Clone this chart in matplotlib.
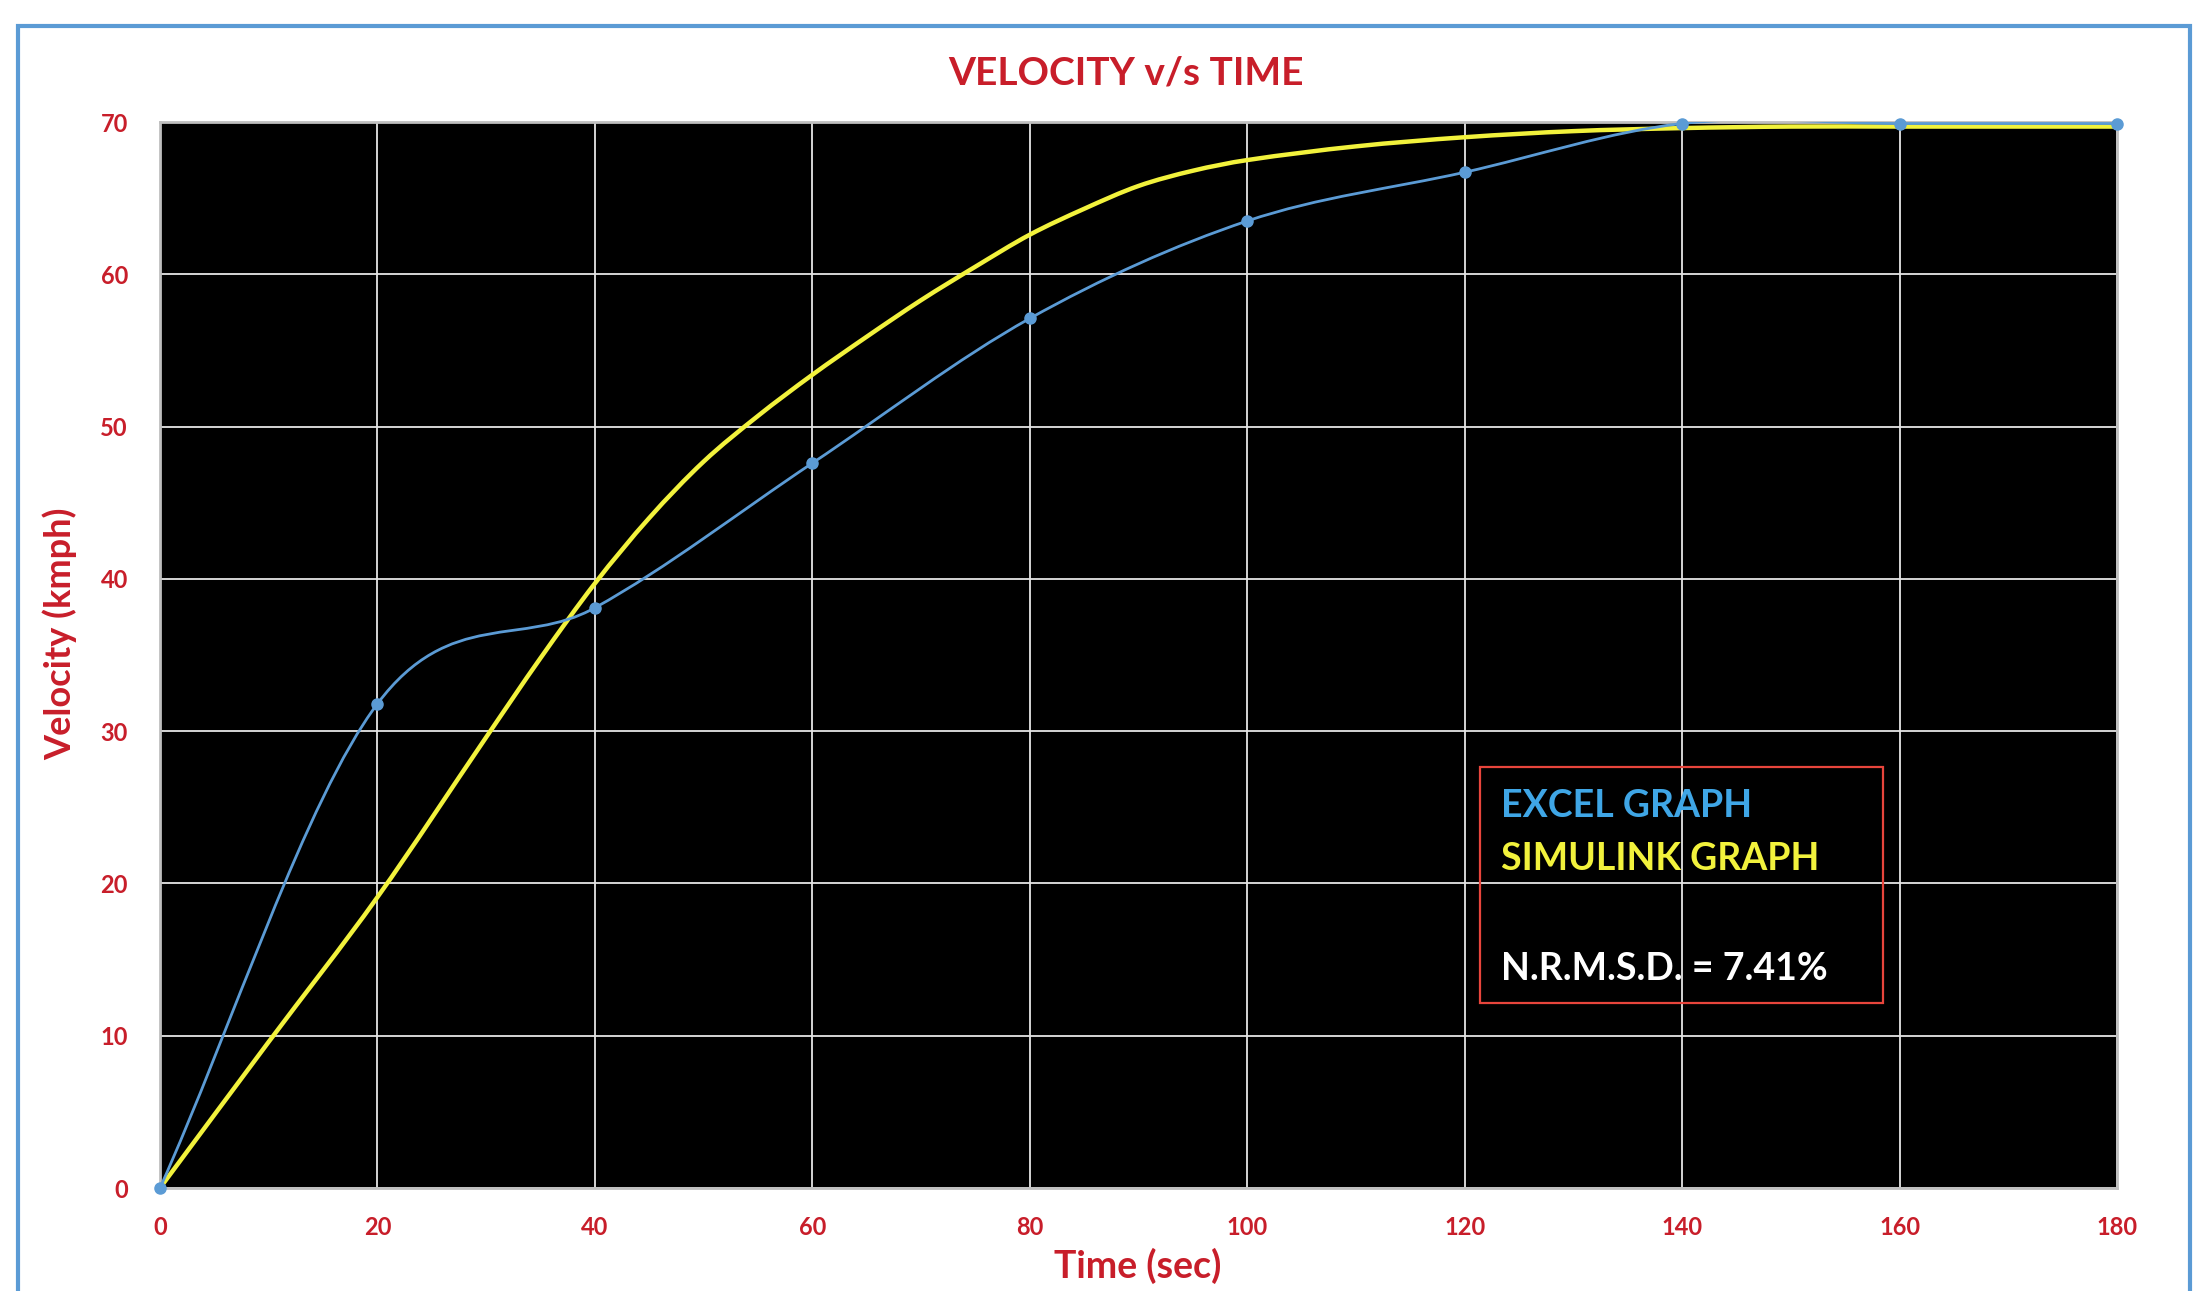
import numpy as np
import matplotlib
matplotlib.use("Agg")
import matplotlib.pyplot as plt
from matplotlib.path import Path
from matplotlib.patches import PathPatch, Rectangle

# ---- data ----
excel_time = [0, 20, 40, 60, 80, 100, 120, 140, 160, 180]
excel_vel = [0, 31.8, 38.1, 47.6, 57.1, 63.5, 66.7, 69.9, 69.9, 69.9]

sim_time = [0, 10, 20, 30, 35, 40, 45, 50, 55, 60, 65, 70, 75, 80, 85, 90,
            95, 100, 110, 120, 130, 140, 150, 160, 170, 180]
sim_vel = [0, 9.6, 19.1, 29.6, 34.8, 39.7, 44.0, 47.7, 50.7, 53.4, 55.9, 58.3,
           60.5, 62.6, 64.3, 65.8, 66.8, 67.5, 68.4, 69.0, 69.4, 69.6, 69.7,
           69.7, 69.7, 69.7]

x_ticks = [0, 20, 40, 60, 80, 100, 120, 140, 160, 180]
y_ticks = [0, 10, 20, 30, 40, 50, 60, 70]

title = "VELOCITY v/s TIME"
x_label = "Time (sec)"
y_label = "Velocity (kmph)"
legend_lines = ["EXCEL GRAPH", "SIMULINK GRAPH", "N.R.M.S.D. = 7.41%"]

RED = "#C81E2A"
BLUE = "#5B9BD5"
YELLOW = "#F2F23C"
FONT = ["Lato", "DejaVu Sans"]

W, H = 2202, 1291


def fx(px):
    return px / W


def fy(py):
    return 1 - py / H


def smooth_path(xs, ys):
    """Excel-style smoothed line: cubic Bezier through every point."""
    xs = np.asarray(xs, float)
    ys = np.asarray(ys, float)
    n = len(xs)
    verts = [(xs[0], ys[0])]
    codes = [Path.MOVETO]
    for i in range(n - 1):
        p0 = np.array([xs[i], ys[i]])
        p1 = np.array([xs[i + 1], ys[i + 1]])
        h = p1[0] - p0[0]
        # slopes at both ends (one-sided at the ends of the series)
        if i > 0:
            m0 = (p1[1] - ys[i - 1]) / (p1[0] - xs[i - 1])
        else:
            m0 = (p1[1] - p0[1]) / h
        if i + 2 < n:
            m1 = (ys[i + 2] - p0[1]) / (xs[i + 2] - p0[0])
        else:
            m1 = (p1[1] - p0[1]) / h
        c1 = (p0[0] + h / 3, p0[1] + m0 * h / 3)
        c2 = (p1[0] - h / 3, p1[1] - m1 * h / 3)
        verts += [c1, c2, tuple(p1)]
        codes += [Path.CURVE4] * 3
    return Path(verts, codes)


fig = plt.figure(figsize=(W / 100, H / 100), dpi=100)
fig.patch.set_facecolor("white")

ax = fig.add_axes([fx(160), fy(1188), (2117 - 160) / W, (1188 - 122) / H])
ax.set_facecolor("black")
ax.set_xlim(0, 180)
ax.set_ylim(0, 70)
ax.set_xticks(x_ticks)
ax.set_yticks(y_ticks)
ax.grid(True, color="#E6E6E6", lw=1.3)
ax.set_axisbelow(True)
for sp in ax.spines.values():
    sp.set_color("#BFBFBF")
    sp.set_linewidth(2)
ax.tick_params(length=0, labelcolor=RED, labelsize=17)
ax.tick_params(axis="y", pad=23)
ax.tick_params(axis="x", pad=20)
for lab in ax.get_xticklabels() + ax.get_yticklabels():
    lab.set_fontfamily(FONT)
    lab.set_fontweight("bold")

# simulink (yellow)
ax.add_patch(PathPatch(smooth_path(sim_time, sim_vel), facecolor="none",
                       edgecolor=YELLOW, lw=3.2, zorder=3))

# excel (blue, smoothed)
ax.add_patch(PathPatch(smooth_path(excel_time, excel_vel), facecolor="none",
                       edgecolor=BLUE, lw=2, zorder=4))
ax.plot(excel_time, excel_vel, ls="none", marker="o", ms=8, color=BLUE,
        clip_on=False, zorder=5)

# legend-style text box
fig.add_artist(Rectangle((fx(1480), fy(1003)), (1883 - 1480) / W, (1003 - 767) / H,
                         transform=fig.transFigure, fill=False,
                         edgecolor="#E8453C", lw=1.6, zorder=6))
legend_colors = ["#3FA6E6", YELLOW, "white"]
legend_y = [817, 870, 980]
for txt, c, yy in zip(legend_lines, legend_colors, legend_y):
    fig.text(fx(1501), fy(yy), txt, color=c, fontsize=27, fontweight="bold",
             family=FONT, ha="left", va="baseline", zorder=7)

# titles
fig.text(fx(1126), fy(73), title, color=RED, fontsize=28, fontweight="bold",
         family=FONT, ha="center", va="center")
fig.text(fx(1138), fy(1266), x_label, color=RED, fontsize=27, fontweight="bold",
         family=FONT, ha="center", va="center")
fig.text(fx(60), fy(634), y_label, color=RED, fontsize=26, fontweight="bold",
         family=FONT, ha="center", va="center", rotation=90)

# blue outer frame (bottom edge runs off the picture)
fig.add_artist(Rectangle((fx(18), -0.05), (2190 - 18) / W, fy(26) + 0.05,
                         transform=fig.transFigure, fill=False,
                         edgecolor=BLUE, lw=3))

fig.savefig("out.png", dpi=100)
